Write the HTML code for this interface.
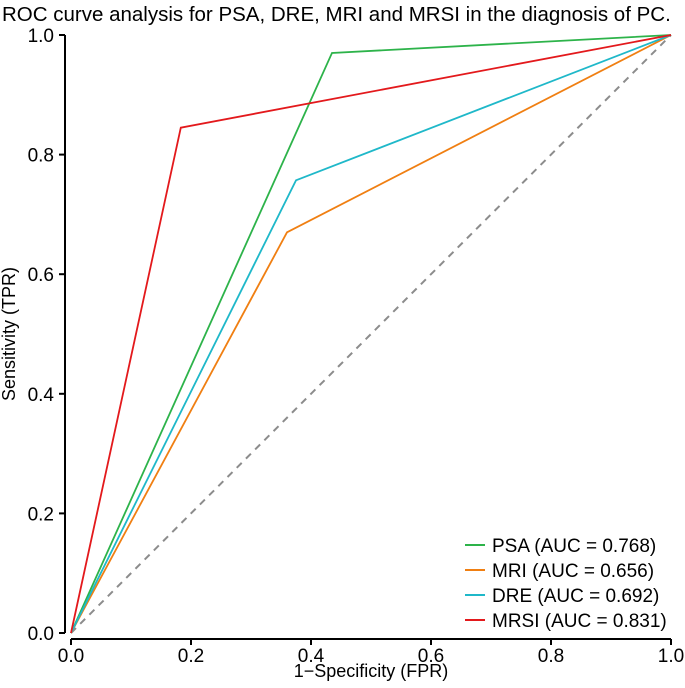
<!DOCTYPE html>
<html><head><meta charset="utf-8"><style>
body{margin:0;background:#fff;font-family:"Liberation Sans",sans-serif}
</style></head><body>
<svg id="c" width="685" height="683" xmlns="http://www.w3.org/2000/svg">
<text x="2" y="21" font-size="20.5">ROC curve analysis for PSA, DRE, MRI and MRSI in the diagnosis of PC.</text>
<g id="axes"></g><g id="lines"></g><g id="legend"></g>
</svg>
<script>
const seriesNames=["PSA","MRI","DRE","MRSI"];
const seriesAUC=["0.768","0.656","0.692","0.831"];
const seriesColors=["#2db34a","#f07f12","#1fb8c9","#e3191c"];
const fprPoints=[[0,0.435,1],[0,0.36,1],[0,0.375,1],[0,0.183,1]];
const tprPoints=[[0,0.97,1],[0,0.67,1],[0,0.757,1],[0,0.845,1]];
const ticks=[0,0.2,0.4,0.6,0.8,1.0];
const tickLabels=["0.0","0.2","0.4","0.6","0.8","1.0"];
const NS="http://www.w3.org/2000/svg";
const X=v=>71+600*v, Y=v=>633-598*v;
function mk(p,t,a){const e=document.createElementNS(NS,t);for(const k in a)e.setAttribute(k,a[k]);p.appendChild(e);return e;}
const ax=document.getElementById('axes');
let l=mk(ax,'line',{x1:65,y1:Y(1),x2:65,y2:Y(0),stroke:'#000','stroke-width':2});


l=mk(ax,'line',{x1:X(0),y1:639,x2:X(1),y2:639,stroke:'#000','stroke-width':2});


ticks.forEach((t,i)=>{
 let a=mk(ax,'line',{x1:59,y1:Y(t),x2:65,y2:Y(t),stroke:'#000','stroke-width':2});
 
 
 let tx=mk(ax,'text',{x:54,y:Y(t)+7,'font-size':19,'text-anchor':'end'});tx.textContent=tickLabels[i];
 
 
 a=mk(ax,'line',{x1:X(t),y1:639,x2:X(t),y2:645,stroke:'#000','stroke-width':2});
 
 
 tx=mk(ax,'text',{x:X(t),y:662,'font-size':19,'text-anchor':'middle'});tx.textContent=tickLabels[i];
 
 
});
let t=mk(ax,'text',{x:371,y:677,'font-size':18,'text-anchor':'middle'});t.textContent='1\u2212Specificity (FPR)';


t=mk(ax,'text',{x:0,y:0,'font-size':18,'text-anchor':'middle',transform:'translate(15,334) rotate(-90)'});t.textContent='Sensitivity (TPR)';


const ln=document.getElementById('lines');
l=mk(ln,'line',{x1:X(0),y1:Y(0),x2:X(1),y2:Y(1),stroke:'#8c8c8c','stroke-width':2,'stroke-dasharray':'7,6'});


seriesNames.forEach((n,i)=>{
 const pts=fprPoints[i].map((f,j)=>X(f)+','+Y(tprPoints[i][j])).join(' ');
 const p=mk(ln,'polyline',{points:pts,fill:'none',stroke:seriesColors[i],'stroke-width':1.8});
 
 
});
const lg=document.getElementById('legend');
seriesNames.forEach((n,i)=>{
 const y=545+25*i;
 const a=mk(lg,'line',{x1:465,y1:y,x2:485,y2:y,stroke:seriesColors[i],'stroke-width':2});
 
 
 const tx=mk(lg,'text',{x:492,y:y+7,'font-size':19});tx.textContent=n+' (AUC = '+seriesAUC[i]+')';
 
 
});
</script>
</body></html>
